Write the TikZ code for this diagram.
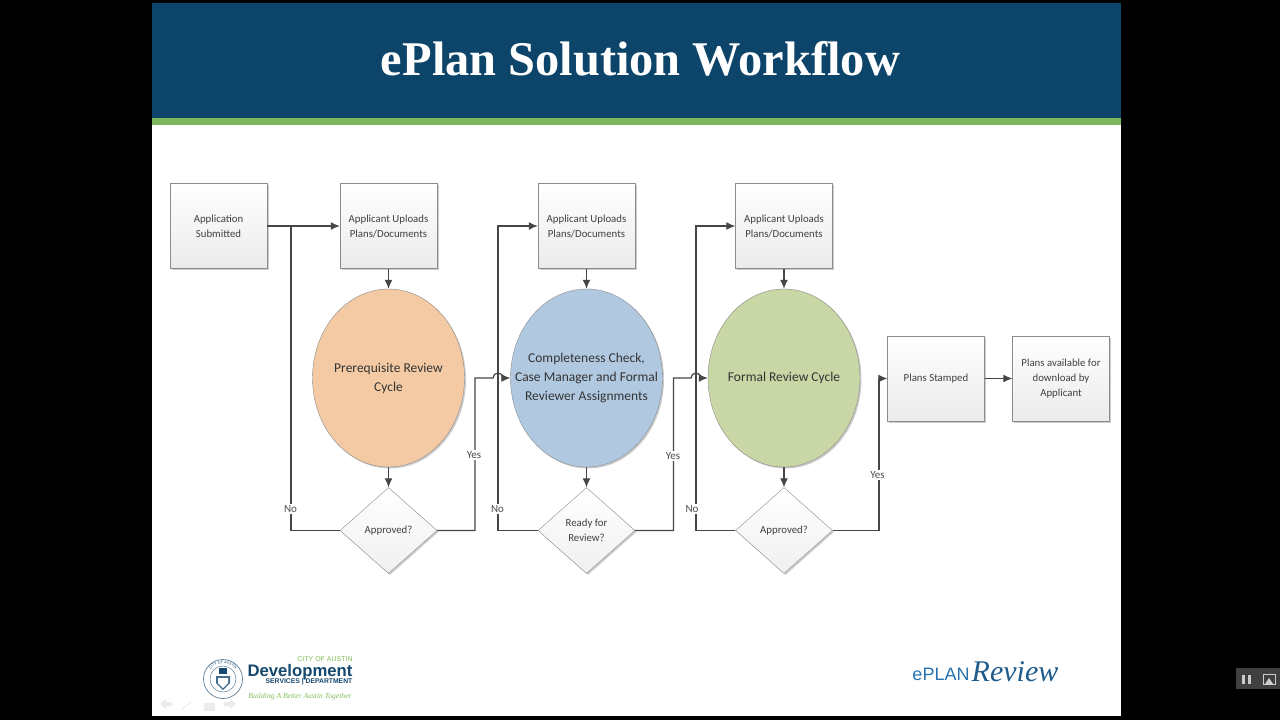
\documentclass[tikz,border=0pt]{standalone}
\usepackage{fontspec}
\setmainfont{Carlito}
\newfontfamily\titlefont{Liberation Serif}
\newfontfamily\logofont{Liberation Sans}
\usepackage{tikz}
\usetikzlibrary{shapes.geometric}
\usetikzlibrary{shadows}
\usetikzlibrary{arrows.meta}
\usetikzlibrary{decorations.text}
\definecolor{header}{RGB}{13,68,105}
\definecolor{bar}{RGB}{124,183,92}
\definecolor{wire}{RGB}{70,70,70}
\definecolor{edge}{RGB}{140,140,140}
\definecolor{peach}{RGB}{243,202,163}
\definecolor{sky}{RGB}{176,201,225}
\definecolor{sage}{RGB}{201,214,166}
\definecolor{logoblue}{RGB}{20,72,110}
\definecolor{logogreen}{RGB}{130,190,90}
\definecolor{planblue}{RGB}{40,115,175}
\tikzset{
  soft/.style={drop shadow={shadow xshift=1.5pt,shadow yshift=-1.5pt,fill=gray,opacity=.4}},
  stepbox/.style={draw=edge,soft,top color=white,bottom color=black!8,minimum width=97pt,minimum height=85pt,
    inner sep=0pt,align=center,font=\fontsize{10.8}{15}\selectfont,text=black!75},
  cycle/.style={ellipse,draw=edge,soft,minimum width=152pt,minimum height=178pt,inner xsep=-30pt,inner ysep=0pt,align=center,
    font=\fontsize{13.5}{19}\selectfont,text=black!80},
  check/.style={diamond,draw=edge,soft,top color=white,bottom color=black!6,minimum width=97pt,minimum height=86pt,
    shape aspect=1.13,inner sep=0pt,align=center,font=\fontsize{10.8}{15}\selectfont,text=black!75},
  wirelabel/.style={fill=white,inner sep=1pt,font=\fontsize{11}{13}\selectfont,text=black!70},
  wireline/.style={draw=wire,line width=1.2pt},
  flow/.style={wireline,-{Latex[length=9pt,width=8pt]}}
}
\begin{document}
\begin{tikzpicture}[x=1pt,y=-1pt]
    \useasboundingbox (0,0) rectangle (1280,720);
    \fill [black] (0,0) rectangle (1280,720);
    \fill [white] (152,3) rectangle (1121,716);
    \fill [header] (152,3) rectangle (1121,118);
    \fill [bar] (152,118) rectangle (1121,124.5);
    \node (title) [text=white,font=\titlefont\bfseries\fontsize{48.4}{50}\selectfont] at (640.5,59) {ePlan Solution Workflow};

    \node (submitted) [stepbox] at (218.5,226) {Application\\Submitted};
    \node (uploadA) [stepbox] at (388.5,226) {Applicant Uploads\\Plans/Documents};
    \node (uploadB) [stepbox] at (586.5,226) {Applicant Uploads\\Plans/Documents};
    \node (uploadC) [stepbox] at (784,226) {Applicant Uploads\\Plans/Documents};

    \node (cycleA) [cycle,fill=peach] at (388.5,378) {Prerequisite Review\\Cycle};
    \node (cycleB) [cycle,fill=sky] at (586.5,378) {Completeness Check,\\Case Manager and Formal\\Reviewer Assignments};
    \node (cycleC) [cycle,fill=sage] at (784,378) {Formal Review Cycle};

    \node (checkA) [check] at (388.5,530.5) {Approved?};
    \node (checkB) [check] at (586.5,530.5) {Ready for\\Review?};
    \node (checkC) [check] at (784,530.5) {Approved?};

    \node (stamped) [stepbox] at (936,378.5) {Plans Stamped};
    \node (available) [stepbox] at (1061,378.5) {Plans available for\\download by\\Applicant};

    \coordinate (joinA) at (291,226);
    \coordinate (cornerA) at (291,530.5);
    \coordinate (cornerB) at (498,530.5);
    \coordinate (topB) at (498,226);
    \coordinate (cornerC) at (696,530.5);
    \coordinate (topC) at (696,226);
    \coordinate (yesA) at (475,530.5);
    \coordinate (riseA) at (475,378);
    \coordinate (hopA) at (493,378);
    \coordinate (yesB) at (673.5,530.5);
    \coordinate (riseB) at (673.5,378);
    \coordinate (hopB) at (691,378);
    \coordinate (yesC) at (879,530.5);
    \coordinate (riseC) at (879,378.5);

    \draw [flow] (submitted) -- (uploadA);
    \draw [flow] (uploadA) -- (cycleA);
    \draw [flow] (uploadB) -- (cycleB);
    \draw [flow] (uploadC) -- (cycleC);
    \draw [flow] (cycleA) -- (checkA);
    \draw [flow] (cycleB) -- (checkB);
    \draw [flow] (cycleC) -- (checkC);

    \draw [wireline] (checkA.west) -- (cornerA) -- (joinA);
    \draw [flow] (checkB.west) -- (cornerB) -- (topB) -- (uploadB.west);
    \draw [flow] (checkC.west) -- (cornerC) -- (topC) -- (uploadC.west);

    \draw [flow] (checkA.east) -- (yesA) -- (riseA) -- (hopA) arc (180:0:5pt) -- (cycleB.west);
    \draw [flow] (checkB.east) -- (yesB) -- (riseB) -- (hopB) arc (180:0:5pt) -- (cycleC.west);
    \draw [flow] (checkC.east) -- (yesC) -- (riseC) -- (stamped.west);
    \draw [flow] (stamped) -- (available);

    \node (noA) [wirelabel] at (290.5,509) {No};
    \node (noB) [wirelabel] at (497.5,509) {No};
    \node (noC) [wirelabel] at (692,509) {No};
    \node (okA) [wirelabel] at (474,455) {Yes};
    \node (okB) [wirelabel] at (673,456) {Yes};
    \node (okC) [wirelabel] at (877.5,475) {Yes};

    % city logo
    \draw [logoblue!70,line width=.7pt] (223,679) circle (19.5pt);
    \draw [logoblue!70,line width=.5pt] (223,679) circle (13pt);
    \path [decorate,decoration={text along path,text align=center,
      text={|\color{logoblue}\logofont\fontsize{3.6}{4}\selectfont|CITY OF AUSTIN}}]
      (207.5,679) arc (180:0:15.5pt);
    \fill [logoblue!80] (216,676) -- (230,676) -- (230,683) -- (223,690) -- (216,683) -- cycle;
    \fill [white] (218,678) -- (228,678) -- (228,683) -- (223,688) -- (218,683) -- cycle;
    \fill [logoblue] (219,668) rectangle (227,674);
    \node (dev) [text=logoblue,inner sep=0pt,font=\logofont\bfseries\fontsize{16.7}{18}\selectfont] at (300,672) {Development};
    \node (city) [text=logogreen,inner sep=0pt,font=\logofont\fontsize{7}{8}\selectfont] at (325,659.5) {CITY OF AUSTIN};
    \node (dept) [text=logoblue,inner sep=0pt,font=\logofont\bfseries\fontsize{6.8}{8}\selectfont] at (309,681.5) {SERVICES | DEPARTMENT};
    \node (motto) [text=logogreen,inner sep=0pt,font=\titlefont\itshape\fontsize{7.6}{8}\selectfont] at (300,696.5) {Building A Better Austin Together};

    % review logo
    \node (eplan) [text=planblue,inner sep=0pt,font=\logofont\fontsize{18}{18}\selectfont] at (941,674) {ePLAN};
    \node (review) [text=planblue!80!black,inner sep=0pt,font=\titlefont\itshape\fontsize{30}{30}\selectfont] at (1015,672) {Review};

    % slide buttons
    \fill [black!8] (160,704) -- (166,699) -- (166,702) -- (172,702) -- (172,706) -- (166,706) -- (166,709) -- cycle;
    \draw [black!8,line width=1pt] (181,710) -- (191,702);
    \fill [black!8] (204,703) rectangle (215,711);
    \fill [black!8] (236,704) -- (230,699) -- (230,702) -- (224,702) -- (224,706) -- (230,706) -- (230,709) -- cycle;

    % player buttons
    \fill [black!75] (1236,668) rectangle (1280,689);
    \fill [black!20] (1242,675) rectangle (1245,684);
    \fill [black!20] (1248,675) rectangle (1251,684);
    \draw [black!20,line width=.8pt] (1263,674) rectangle (1275,684);
    \fill [black!20] (1265,684) -- (1269,678) -- (1273,684) -- cycle;
\end{tikzpicture}
\end{document}
